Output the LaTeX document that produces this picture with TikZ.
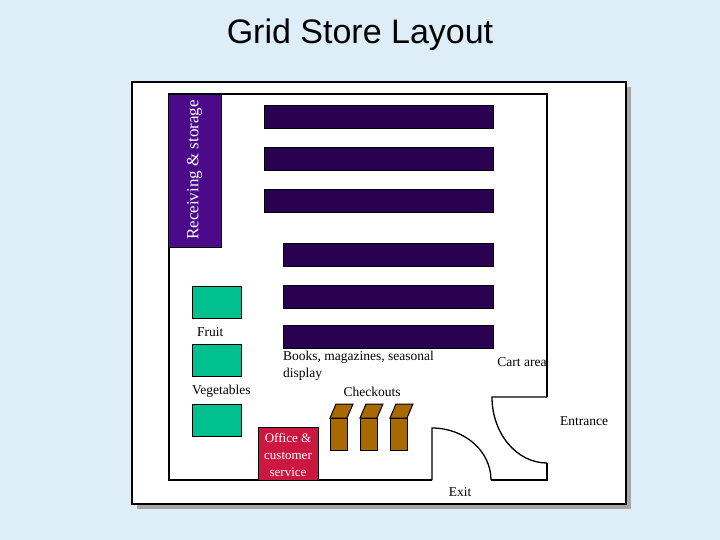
\documentclass[tikz,border=0pt]{standalone}
\usepackage{fontspec}
\setmainfont{Liberation Serif}
\newfontfamily\titlefont{Liberation Sans}
\begin{document}
\begin{tikzpicture}[x=1pt,y=-1pt,
  aisle/.style={fill=aislecol,draw=black,line width=1pt},
  produce/.style={fill=greencol,draw=black,line width=1pt},
  lbl/.style={font=\fontsize{13.5}{14}\selectfont,inner sep=0pt},
  wall/.style={line width=1.3pt}]
\definecolor{bgcol}{HTML}{DDEEF8}
\definecolor{aislecol}{HTML}{2A0050}
\definecolor{recvcol}{HTML}{4B0A8A}
\definecolor{greencol}{HTML}{00C090}
\definecolor{officecol}{HTML}{CC1840}
\definecolor{checkcol}{HTML}{A86A00}
\fill[bgcol] (0,0) rectangle (720,540);
\useasboundingbox (0,0) rectangle (720,540);
\node[font=\titlefont\fontsize{34}{36}\selectfont] (title) at (360,35) {Grid Store Layout};
\fill[gray!70] (137,87) rectangle (631,509);
\draw[fill=white,line width=1.2pt] (132,82) rectangle (626,504);
% store walls
\draw[wall] (432,480) -- (169,480) -- (169,94) -- (547,94) -- (547,397);
\draw[wall] (491,480) -- (547,480) -- (547,463);
% doors
\draw[wall] (547,397) -- (492,397) arc[start angle=180,end angle=270,x radius=55,y radius=-66];
\draw[wall] (432,480) -- (432,428) arc[start angle=90,end angle=0,x radius=59,y radius=-52];
\node[draw=black,line width=1pt,fill=recvcol,minimum width=53pt,minimum height=153pt,anchor=north west,inner sep=0pt] (recv) at (168,94) {};
\node[rotate=90,text=white,inner sep=0pt,font=\fontsize{17}{18}\selectfont] (recvt) at (194.5,170) {Receiving \& storage};
\foreach \y in {106,148,190} \draw[aisle] (264,\y) rectangle (493,\y+23);
\foreach \y in {243,285,325} \draw[aisle] (283,\y) rectangle (493,\y+23);
\foreach \y in {286,344,404} \draw[produce] (192,\y) rectangle (241,\y+32);
\node[fill=officecol,draw=black,line width=1pt,minimum width=60pt,minimum height=53pt,anchor=north west,inner sep=0pt] (office) at (258,427) {};
\node[text=white,align=center,inner sep=0pt,font=\fontsize{13}{17}\selectfont] (officet) at (288,455) {Office \&\\customer\\service};
\foreach \x in {330,360,390}{
  \draw[fill=checkcol,line width=1pt] (\x,418) rectangle (\x+17,450);
  \draw[fill=checkcol,line width=1pt] (\x,418) -- (\x+17,418) -- (\x+23,404) -- (\x+6,404) -- cycle;
}
\node[lbl,anchor=west] (fruit) at (197,332) {Fruit};
\node[lbl,anchor=west] (veg) at (192,391) {Vegetables};
\node[lbl,anchor=north west,align=left,font=\fontsize{13.5}{17}\selectfont] (books) at (283,351) {Books, magazines, seasonal\\display};
\node[lbl] (check) at (372,392) {Checkouts};
\node[lbl] (cart) at (522,362) {Cart area};
\node[lbl] (ent) at (584,421) {Entrance};
\node[lbl] (exit) at (460,492) {Exit};
\end{tikzpicture}
\end{document}
